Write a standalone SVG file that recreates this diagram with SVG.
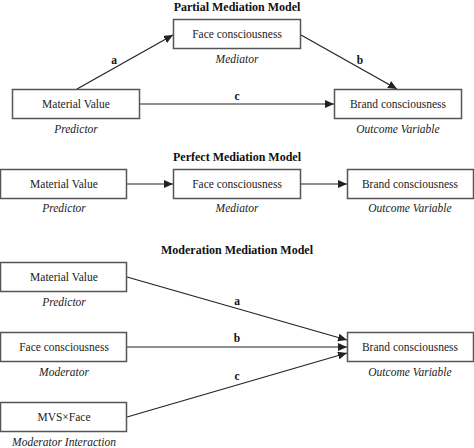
<svg xmlns="http://www.w3.org/2000/svg" width="474" height="448" viewBox="0 0 474 448">
<defs>
<marker id="ah" markerWidth="10" markerHeight="8" refX="9" refY="4" orient="auto" markerUnits="userSpaceOnUse">
<path d="M0,0 L9,4 L0,8 Z" fill="#222"/>
</marker>
<style>
text{font-family:"Liberation Serif","Times New Roman",Times,"DejaVu Serif",serif}
.box{fill:#fff;stroke:#555;stroke-width:1.5}
.t{font-size:11.5px;fill:#222;text-anchor:middle}
.i{font-size:11.5px;font-style:italic;fill:#222;text-anchor:middle}
.h{font-size:12px;font-weight:bold;fill:#111;text-anchor:middle}
.l{font-size:11.5px;font-weight:bold;fill:#111;text-anchor:middle}
.c{stroke:#222;stroke-width:1.2;fill:none;marker-end:url(#ah)}
</style>
</defs>
<rect width="474" height="448" fill="#fff"/>

<text class="h" x="237" y="11">Partial Mediation Model</text>
<text class="h" x="237" y="161">Perfect Mediation Model</text>
<text class="h" x="237" y="254">Moderation Mediation Model</text>

<g id="connectors">
<line class="c" x1="77" y1="89" x2="173" y2="35"/>
<line class="c" x1="301" y1="35" x2="397" y2="89"/>
<line class="c" x1="139" y1="104" x2="334" y2="104"/>
<line class="c" x1="127" y1="184" x2="173" y2="184"/>
<line class="c" x1="300" y1="184" x2="347" y2="184"/>
<line class="c" x1="127" y1="277" x2="347" y2="340"/>
<line class="c" x1="127" y1="347" x2="347" y2="347"/>
<line class="c" x1="127" y1="417" x2="347" y2="353"/>
<text class="l" x="114" y="64">a</text>
<text class="l" x="360" y="64">b</text>
<text class="l" x="237" y="100">c</text>
<text class="l" x="237" y="305">a</text>
<text class="l" x="237" y="342">b</text>
<text class="l" x="237" y="380">c</text>
</g>

<g id="p-face">
<rect class="box" x="173.5" y="19.5" width="127" height="29"/>
<text class="t" x="237" y="38">Face consciousness</text>
<text class="i" x="237" y="63">Mediator</text>
</g>
<g id="p-material">
<rect class="box" x="12.5" y="89.5" width="127" height="29"/>
<text class="t" x="76" y="108">Material Value</text>
<text class="i" x="76" y="133">Predictor</text>
</g>
<g id="p-brand">
<rect class="box" x="334.5" y="89.5" width="127" height="29"/>
<text class="t" x="398" y="108">Brand consciousness</text>
<text class="i" x="398" y="133">Outcome Variable</text>
</g>

<g id="f-material">
<rect class="box" x="0.5" y="169.5" width="126" height="29"/>
<text class="t" x="64" y="188">Material Value</text>
<text class="i" x="64" y="212">Predictor</text>
</g>
<g id="f-face">
<rect class="box" x="173.5" y="169.5" width="127" height="29"/>
<text class="t" x="237" y="188">Face consciousness</text>
<text class="i" x="237" y="212">Mediator</text>
</g>
<g id="f-brand">
<rect class="box" x="347.5" y="169.5" width="126" height="29"/>
<text class="t" x="410" y="188">Brand consciousness</text>
<text class="i" x="410" y="212">Outcome Variable</text>
</g>

<g id="m-material">
<rect class="box" x="0.5" y="262.5" width="126" height="29"/>
<text class="t" x="64" y="281">Material Value</text>
<text class="i" x="64" y="306">Predictor</text>
</g>
<g id="m-face">
<rect class="box" x="0.5" y="332.5" width="126" height="29"/>
<text class="t" x="64" y="351">Face consciousness</text>
<text class="i" x="64" y="376">Moderator</text>
</g>
<g id="m-inter">
<rect class="box" x="0.5" y="402.5" width="126" height="29"/>
<text class="t" x="64" y="421">MVS×Face</text>
<text class="i" x="64" y="446">Moderator Interaction</text>
</g>
<g id="m-brand">
<rect class="box" x="347.5" y="332.5" width="126" height="29"/>
<text class="t" x="410" y="351">Brand consciousness</text>
<text class="i" x="410" y="376">Outcome Variable</text>
</g>
</svg>
